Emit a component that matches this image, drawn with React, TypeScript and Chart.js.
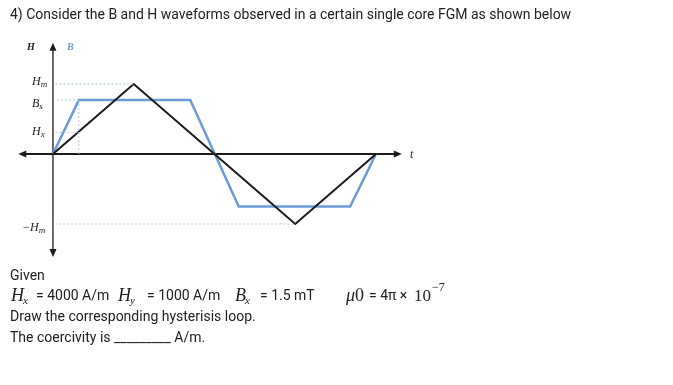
import React, { useEffect, useRef } from "react";
import { Chart, registerables } from "chart.js";

Chart.register(...registerables);

// Waveform data (t in quarter periods, values normalised to Hm = 1)
const hTimes = [0, 1, 2, 3, 4];
const hValues = [0, 1, 0, -1, 0];
const bTimes = [0, 0.32, 1.7, 2.3, 3.68, 4];
const bValues = [0, 0.77, 0.77, -0.75, -0.75, 0];

// Reference levels
const levelHm = 1;
const levelBs = 0.77;
const levelHx = 0.31;
const tSat = 0.32;
const tPeak = 1;
const tTrough = 3;

// Axis extents (arrow tips)
const xAxisRange = [-0.43, 4.32];
const yAxisRange = [-1.47, 1.59];

const BLACK = "#1a1a1a";
const BLUE = "#6a9bd6";
const GUIDE = "#a9c8ee";

const axesPlugin = {
  id: "arrowAxes",
  beforeDatasetsDraw(chart: any) {
    const { ctx, scales } = chart;
    const xs = scales.x;
    const ys = scales.y;
    const x0 = xs.getPixelForValue(0);
    const y0 = ys.getPixelForValue(0);
    const xl = xs.getPixelForValue(xAxisRange[0]);
    const xr = xs.getPixelForValue(xAxisRange[1]);
    const yt = ys.getPixelForValue(yAxisRange[1]);
    const yb = ys.getPixelForValue(yAxisRange[0]);
    ctx.save();
    ctx.strokeStyle = BLACK;
    ctx.fillStyle = BLACK;
    ctx.lineWidth = 2;
    ctx.beginPath();
    ctx.moveTo(xl + 6, y0);
    ctx.lineTo(xr - 6, y0);
    ctx.stroke();
    ctx.lineWidth = 1.3;
    ctx.beginPath();
    ctx.moveTo(x0, yt + 6);
    ctx.lineTo(x0, yb - 6);
    ctx.stroke();
    const tri = (pts: number[][]) => {
      ctx.beginPath();
      ctx.moveTo(pts[0][0], pts[0][1]);
      ctx.lineTo(pts[1][0], pts[1][1]);
      ctx.lineTo(pts[2][0], pts[2][1]);
      ctx.closePath();
      ctx.fill();
    };
    tri([[xl, y0], [xl + 8, y0 - 3.5], [xl + 8, y0 + 3.5]]);
    tri([[xr, y0], [xr - 8, y0 - 3.5], [xr - 8, y0 + 3.5]]);
    tri([[x0, yt], [x0 - 3.5, yt + 8], [x0 + 3.5, yt + 8]]);
    tri([[x0, yb], [x0 - 3.5, yb - 8], [x0 + 3.5, yb - 8]]);
    ctx.restore();
  },
};

const guide = (pts: { x: number; y: number }[]) => ({
  data: pts,
  borderColor: GUIDE,
  borderWidth: 1,
  borderDash: [2, 2],
  pointRadius: 0,
  fill: false,
  tension: 0,
});

const serif = "'Liberation Serif', 'DejaVu Serif', serif";
const sans = "Roboto, 'Noto Sans', sans-serif";

const Abs = ({ x, y, children, style }: any) => (
  <div
    style={{
      position: "absolute",
      left: x,
      top: y,
      whiteSpace: "nowrap",
      lineHeight: "16px",
      ...style,
    }}
  >
    {children}
  </div>
);

const MathVar = ({ base, sub, size = 18, subSize = 11 }: any) => (
  <span style={{ fontFamily: serif, fontStyle: "italic", fontSize: size }}>
    {base}
    {sub !== undefined && (
      <sub style={{ fontSize: subSize, verticalAlign: "-0.25em", marginLeft: -1 }}>{sub}</sub>
    )}
  </span>
);

export default function App() {
  const canvasRef = useRef<HTMLCanvasElement | null>(null);

  useEffect(() => {
    if (!canvasRef.current) return;
    const hData = hTimes.map((t, i) => ({ x: t, y: hValues[i] }));
    const bData = bTimes.map((t, i) => ({ x: t, y: bValues[i] }));
    const chart = new Chart(canvasRef.current, {
      type: "line",
      data: {
        datasets: [
          guide([{ x: 0.03, y: levelHm }, { x: tPeak, y: levelHm }]),
          guide([{ x: 0.05, y: levelBs }, { x: tSat, y: levelBs }]),
          guide([{ x: 0.03, y: levelHx }, { x: tSat, y: levelHx }]),
          guide([{ x: tSat, y: levelBs }, { x: tSat, y: 0 }]),
          guide([{ x: 0.03, y: -levelHm }, { x: tTrough, y: -levelHm }]),
          {
            data: hData,
            borderColor: BLACK,
            borderWidth: 2,
            pointRadius: 0,
            fill: false,
            tension: 0,
          },
          {
            data: bData,
            borderColor: BLUE,
            borderWidth: 2.5,
            pointRadius: 0,
            fill: false,
            tension: 0,
          },
        ],
      },
      options: {
        animation: false,
        responsive: false,
        maintainAspectRatio: false,
        layout: { padding: 0 },
        plugins: { legend: { display: false }, tooltip: { enabled: false } },
        scales: {
          x: { type: "linear", min: -0.656, max: 7.678, display: false },
          y: { type: "linear", min: -3.3, max: 2.2, display: false },
        },
        events: [],
      },
      plugins: [axesPlugin],
    });
    return () => chart.destroy();
  }, []);

  const label = { fontFamily: serif, fontStyle: "italic", fontSize: 12, color: "#222" };

  return (
    <div
      style={{
        position: "absolute",
        left: 0,
        top: 0,
        width: 673,
        height: 385,
        background: "#fff",
        overflow: "hidden",
        fontFamily: sans,
        color: "#202124",
      }}
    >
      <canvas
        ref={canvasRef}
        width={673}
        height={385}
        style={{ position: "absolute", left: 0, top: 0, width: 673, height: 385 }}
      />
      <Abs x={10} y={6} style={{ fontSize: 14 }}>
        4) Consider the B and H waveforms observed in a certain single core FGM as shown below
      </Abs>

      {/* diagram labels */}
      <Abs x={27} y={39} style={{ ...label, fontWeight: "bold", fontSize: 10 }}>H</Abs>
      <Abs x={67} y={39} style={{ ...label, fontWeight: "bold", fontSize: 10, color: BLUE }}>B</Abs>
      <Abs x={32} y={73} style={label}>
        H<sub style={{ fontSize: 9, verticalAlign: "-0.2em" }}>m</sub>
      </Abs>
      <Abs x={32} y={95} style={label}>
        B<sub style={{ fontSize: 9, verticalAlign: "-0.2em" }}>s</sub>
      </Abs>
      <Abs x={32} y={123} style={label}>
        H<sub style={{ fontSize: 9, verticalAlign: "-0.2em" }}>x</sub>
      </Abs>
      <Abs x={22} y={219} style={label}>
        −H<sub style={{ fontSize: 9, verticalAlign: "-0.2em" }}>m</sub>
      </Abs>
      <Abs x={410} y={146} style={label}>t</Abs>

      {/* text below */}
      <Abs x={10} y={267} style={{ fontSize: 14 }}>Given</Abs>

      <Abs x={11} y={285} style={{ lineHeight: "20px" }}><MathVar base="H" sub="x" /></Abs>
      <Abs x={36} y={287} style={{ fontSize: 14 }}>= 4000 A/m</Abs>
      <Abs x={118} y={285} style={{ lineHeight: "20px" }}><MathVar base="H" sub="y" /></Abs>
      <Abs x={147} y={287} style={{ fontSize: 14 }}>= 1000 A/m</Abs>
      <Abs x={235} y={285} style={{ lineHeight: "20px" }}><MathVar base="B" sub="x" /></Abs>
      <Abs x={260} y={287} style={{ fontSize: 14 }}>= 1.5 mT</Abs>
      <Abs x={346} y={285} style={{ lineHeight: "20px" }}>
        <span style={{ fontFamily: serif, fontStyle: "italic", fontSize: 18 }}>μ</span>
        <span style={{ fontFamily: serif, fontSize: 18 }}>0</span>
      </Abs>
      <Abs x={369} y={287} style={{ fontSize: 14 }}>= 4π ×</Abs>
      <Abs x={414} y={286} style={{ lineHeight: "20px", fontFamily: serif, fontSize: 17 }}>10</Abs>
      <Abs x={432} y={280} style={{ lineHeight: "14px", fontFamily: serif, fontSize: 12 }}>−7</Abs>

      <Abs x={10} y={308} style={{ fontSize: 14 }}>Draw the corresponding hysterisis loop.</Abs>
      <Abs x={10} y={329} style={{ fontSize: 14 }}>The coercivity is _________ A/m.</Abs>
    </div>
  );
}
